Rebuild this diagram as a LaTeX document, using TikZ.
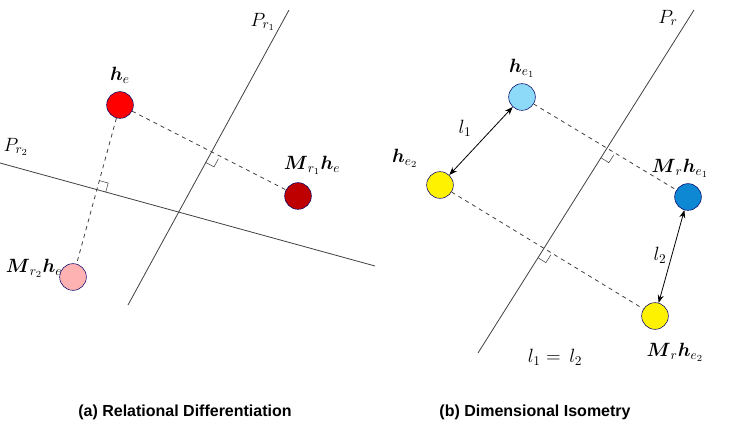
\documentclass[tikz,border=0pt]{standalone}
\usepackage{amsmath}
\usepackage{amssymb}
\usepackage{fontspec}
\newfontfamily\capfont{Liberation Sans}
\usetikzlibrary{calc,arrows.meta}

\begin{document}
\begin{tikzpicture}[x=0.75pt,y=-0.75pt,thick]
    % `ball' is used for the embedding points.
    % `proj' is used for the dashed projection lines.
    \tikzstyle{ball} = [draw=blue!40!black,thin,circle,minimum size=20pt,inner sep=0pt]
    \tikzstyle{plane} = [draw=black!75,semithick]
    \tikzstyle{proj} = [draw=black!75,semithick,dashed]
    \tikzstyle{dist} = [semithick,{Stealth[length=6pt]}-{Stealth[length=6pt]}]
    \tikzstyle{lab} = [font=\Large]
    \tikzstyle{caption} = [font=\capfont\bfseries\large]
    \useasboundingbox (0,0) rectangle (738,427);
    %
    % (a) left panel
    \coordinate (Pa1) at (289,10);  \coordinate (Pa2) at (128,305);
    \coordinate (Pb1) at (0,163);   \coordinate (Pb2) at (375,266);
    \draw[plane] (Pa1) -- (Pa2);
    \draw[plane] (Pb1) -- (Pb2);
    \node[lab] (lPa) at (263,22) {$P_{r_1}$};
    \node[lab] (lPb) at (16,147) {$P_{r_2}$};
    \node[ball,fill=red] (he) at (120,105) {};
    \node[ball,fill=red!75!black] (Mone) at (298,196) {};
    \node[ball,fill=red!30] (Mtwo) at (73,277) {};
    \node[lab] (lhe) at (120,75) {$\boldsymbol{h}_e$};
    \node[lab] (lMone) at (312,165) {$\boldsymbol{M}_{r_1}\boldsymbol{h}_e$};
    \node[lab] (lMtwo) at (34,268) {$\boldsymbol{M}_{r_2}\boldsymbol{h}_e$};
    \draw[proj] (he) -- (Mone);
    \draw[proj] (he) -- (Mtwo);
    %
    % (b) right panel
    \coordinate (Pc1) at (694,10);  \coordinate (Pc2) at (478,353);
    \draw[plane] (Pc1) -- (Pc2);
    \node[lab] (lPc) at (668,18) {$P_r$};
    \node[ball,fill=cyan!45] (hone) at (522,97) {};
    \node[ball,fill=yellow] (htwo) at (440,185) {};
    \node[ball,fill=cyan!70!blue] (Mhone) at (688,197) {};
    \node[ball,fill=yellow] (Mhtwo) at (655,316) {};
    \node[lab] (lhone) at (522,68) {$\boldsymbol{h}_{e_1}$};
    \node[lab] (lhtwo) at (405,158) {$\boldsymbol{h}_{e_2}$};
    \node[lab] (lMhone) at (680,168) {$\boldsymbol{M}_r\boldsymbol{h}_{e_1}$};
    \node[lab] (lMhtwo) at (675,352) {$\boldsymbol{M}_r\boldsymbol{h}_{e_2}$};
    \draw[proj] (hone) -- (Mhone);
    \draw[proj] (htwo) -- (Mhtwo);
    \draw[dist] (htwo) -- (hone);
    \draw[dist] (Mhone) -- (Mhtwo);
    \node[lab] (lone) at (465,128) {$l_1$};
    \node[lab] (ltwo) at (660,255) {$l_2$};
    \node[lab] (leq) at (555,357) {$l_1 =\, l_2$};
    %
    % right angle marks
    \foreach \p/\q/\a/\b in {he/Mone/Pa1/Pa2, he/he/Pb1/Pb2,
                             hone/Mhone/Pc1/Pc2, htwo/Mhtwo/Pc1/Pc2} {
      \coordinate (f) at ($(\a)!(\p)!(\b)$);
      \coordinate (v) at ($(f)!7pt!(\b)$);
      \coordinate (u) at ($(f)!7pt!90:(\b)$);
      \coordinate (w) at ($(f)!7pt!-90:(\b)$);
      \draw[black!75,thin] let \p1=($(u)-(\q)$), \p2=($(w)-(\q)$) in
        \pgfextra{\pgfmathsetmacro\du{veclen(\x1,\y1)}\pgfmathsetmacro\dw{veclen(\x2,\y2)}}
        \ifdim\du pt<\dw pt (u) -- ($(u)+(v)-(f)$) -- (v) \else (w) -- ($(w)+(v)-(f)$) -- (v) \fi;
    }
    %
    % captions
    \node[caption] (capa) at (185,412) {(a) Relational Differentiation};
    \node[caption] (capb) at (535,412) {(b) Dimensional Isometry};
\end{tikzpicture}
\end{document}
